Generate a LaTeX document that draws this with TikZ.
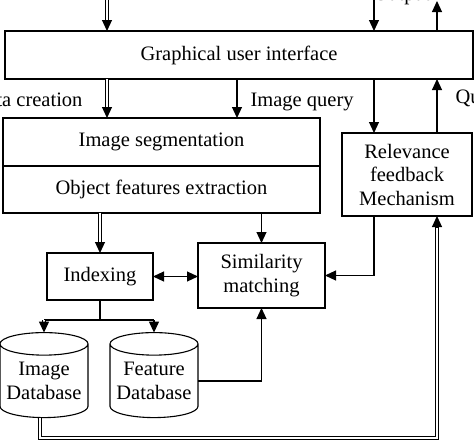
\documentclass[tikz,border=0pt]{standalone}
\usepackage{fontspec}
\setmainfont{Liberation Serif}
\usetikzlibrary{arrows.meta, positioning, shapes.geometric}
\tikzset{>={Triangle[length=11pt,width=10pt]}, node distance=2cm}

\begin{document}
\begin{tikzpicture}[x=1pt, y=-1pt, line width=1.1pt, font=\fontsize{20.5}{23.5}\selectfont,
block/.style={rectangle, draw=black, fill=white, align=center, inner sep=0pt, outer sep=0pt},
store/.style={cylinder, shape border rotate=90, aspect=0.3, draw=black, fill=white, align=center, minimum width=88, minimum height=85, inner sep=0pt, outer sep=0pt},
dbl/.style={double, double distance=1.8pt, line width=0.8pt},
tag/.style={inner sep=0pt}]
    \useasboundingbox (0,0) rectangle (474,442);
    \clip (0,0) rectangle (474,442);

    \node[block, minimum width=468, minimum height=48] (gui) at (239,55) {Graphical user interface};
    \node[block, minimum width=317, minimum height=48] (seg) at (161.5,142) {Image segmentation};
    \node[block, minimum width=317, minimum height=47, below=0pt of seg] (ofe) {Object features extraction};
    \node[block, minimum width=130, minimum height=83] (rfm) at (407,174.5) {Relevance\\feedback\\Mechanism};
    \node[block, minimum width=106, minimum height=47] (idx) at (100,276.5) {Indexing};
    \node[block, minimum width=127, minimum height=65] (sim) at (261.5,275.5) {Similarity\\matching};
    \node[store] (imgdb) at (44,381) {Image\\Database};
    \node[store] (featdb) at (154,381) {Feature\\Database};

    % labels, partly cut at the border
    \node[tag, anchor=base east] (datalbl) at (83,106) {Data creation};
    \node[tag, anchor=base west] (querylbl) at (250,106) {Image query};
    \node[tag, anchor=base west] (qlbl) at (455,103) {Query};
    \node[tag, anchor=base west] (outlbl) at (373,0.5) {Output};

    \coordinate (topA) at (107,-2);
    \coordinate (topB) at (374,-2);
    \coordinate (topC) at (437,1);
    \coordinate (qry) at (237,0);
    \coordinate (split) at (100,320);
    \coordinate (loop) at (437,438);

    % ends of the double arrows
    \coordinate (e1) at (topA |- gui.north);
    \coordinate (e2) at (seg.north -| topA);
    \coordinate (e3) at (idx.north);
    \coordinate (e4) at (imgdb.top);
    \coordinate (e5) at (rfm.south -| loop);

    \draw[dbl, shorten >=9pt] (topA) -- (e1);
    \draw[->] ([yshift=11pt]e1) -- (e1);
    \draw[->] (topB) -- (topB |- gui.north);
    \draw[->] (gui.north -| topC) -- (topC);
    \draw[dbl, shorten >=9pt] (gui.south -| topA) -- (e2);
    \draw[->] ([yshift=11pt]e2) -- (e2);
    \draw[->] (gui.south -| qry) -- (seg.north -| qry);
    \draw[->] (gui.south -| topB) -- (rfm.north -| topB);
    \draw[->] (rfm.north -| topC) -- (gui.south -| topC);

    \draw[dbl, shorten >=9pt] (ofe.south -| e3) -- (e3);
    \draw[->] ([yshift=11pt]e3) -- (e3);
    \draw[->] (ofe.south -| sim.north) -- (sim.north);
    \draw[<->] (idx.east) -- (sim.west |- idx.east);
    \draw[->] (rfm.south -| topB) |- (sim.east);

    \draw (idx.south) -- (split);
    \draw (split -| imgdb.top) -- (split -| featdb.top);
    \draw[dbl, shorten >=9pt] (split -| e4) -- (e4);
    \draw[->] ([yshift=11pt]e4) -- (e4);
    \draw[->] (split -| featdb.top) -- (featdb.top);
    \draw[->] (featdb.east) -| (sim.south);
    \draw[dbl, shorten >=9pt] ([xshift=-4pt]imgdb.bottom) |- (loop) -- (e5);
    \draw[->] ([yshift=-11pt]e5) -- (e5);
\end{tikzpicture}
\end{document}
